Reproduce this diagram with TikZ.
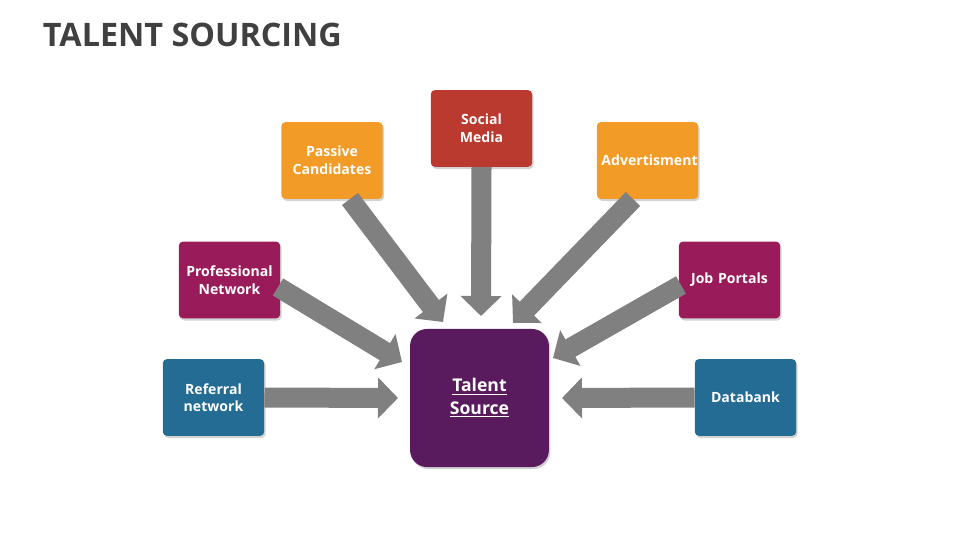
\documentclass[tikz,border=0pt]{standalone}
\usepackage{fontspec}
\setmainfont{Open Sans}
\usetikzlibrary{arrows.meta,shadows}
\definecolor{cred}{HTML}{BA3A2F}
\definecolor{corange}{HTML}{F29B26}
\definecolor{cmaroon}{HTML}{9A1B5A}
\definecolor{cblue}{HTML}{246C94}
\definecolor{cpurple}{HTML}{5A1A5E}
\definecolor{carrow}{HTML}{808080}
\tikzset{
  boxs/.style={rounded corners=3pt, minimum width=2.42cm, minimum height=1.92cm, text width=2.3cm, align=center, text=white, font=\fontsize{10}{12.5}\selectfont\bfseries, drop shadow={shadow xshift=1pt, shadow yshift=-1.5pt, opacity=0.35}},
  arr/.style={draw=carrow, line width=0.5cm, -{Triangle[width=1.0cm,length=0.5cm]}}
}
\begin{document}
\begin{tikzpicture}[x=0.025cm,y=-0.025cm]
\useasboundingbox (0,0) rectangle (960,540);
\node[anchor=west, text=black!75, font=\fontsize{23}{26}\selectfont\bfseries] (title) at (38,35) {TALENT SOURCING};
\node[boxs, fill=cred] (sm) at (481.5,128.5) {Social\\Media};
\node[boxs, fill=corange] (pc) at (332,160.5) {Passive\\Candidates};
\node[boxs, fill=corange] (ad) at (647.5,160.5) {Advertisment};
\node[boxs, fill=cmaroon] (pn) at (229.5,280) {Professional\\Network};
\node[boxs, fill=cmaroon] (jp) at (729.5,280) {Job Portals};
\node[boxs, fill=cblue] (rn) at (213.5,397.5) {Referral\\network};
\node[boxs, fill=cblue] (db) at (745.5,397.5) {Databank};
\node[boxs, fill=cpurple, rounded corners=12pt, minimum width=3.47cm, minimum height=3.45cm, text width=3.2cm, font=\fontsize{12.5}{16}\selectfont\bfseries] (ts) at (479.5,398) {\underline{Talent}\\\underline{Source}};
\coordinate (t1) at (398,398);
\coordinate (t2) at (562,398);
\coordinate (t3) at (402,362);
\coordinate (t4) at (553,358);
\coordinate (t5) at (443,322);
\coordinate (t6) at (481,316);
\coordinate (t7) at (513,323);
\draw[arr] (rn.east) -- (t1);
\draw[arr] (db.west) -- (t2);
\draw[arr] (278,287) -- (t3);
\draw[arr] (681,285) -- (t4);
\draw[arr] (350,199) -- (t5);
\draw[arr] (sm.south) -- (t6);
\draw[arr] (633,199) -- (t7);
\end{tikzpicture}
\end{document}
